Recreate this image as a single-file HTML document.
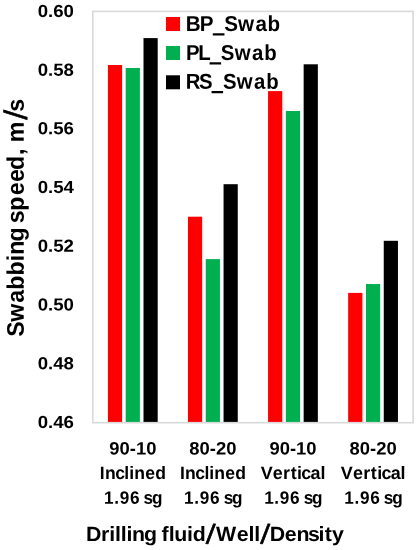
<!DOCTYPE html>
<html><head><meta charset="utf-8"><title>Swabbing speed chart</title>
<style>
html,body{margin:0;padding:0;background:#fff;}
svg{display:block;}
text{font-family:"Liberation Sans",sans-serif;font-weight:bold;fill:#000;white-space:pre;}
</style></head>
<body>
<svg width="420" height="550" viewBox="0 0 420 550">
<rect x="0" y="0" width="420" height="550" fill="#fff"/>
<g>
<rect x="107.90" y="65.0" width="14.2" height="357.5" fill="#ff0000"/>
<rect x="125.70" y="68.0" width="14.2" height="354.5" fill="#00b050"/>
<rect x="143.50" y="38.1" width="14.2" height="384.4" fill="#000000"/>
<rect x="187.95" y="216.7" width="14.2" height="205.8" fill="#ff0000"/>
<rect x="205.75" y="259.1" width="14.2" height="163.4" fill="#00b050"/>
<rect x="223.55" y="184.2" width="14.2" height="238.3" fill="#000000"/>
<rect x="268.05" y="91.1" width="14.2" height="331.4" fill="#ff0000"/>
<rect x="285.85" y="111.0" width="14.2" height="311.5" fill="#00b050"/>
<rect x="303.65" y="64.3" width="14.2" height="358.2" fill="#000000"/>
<rect x="348.15" y="292.9" width="14.2" height="129.6" fill="#ff0000"/>
<rect x="365.95" y="284.0" width="14.2" height="138.5" fill="#00b050"/>
<rect x="383.75" y="240.8" width="14.2" height="181.7" fill="#000000"/>
</g>
<rect x="92.8" y="11.4" width="320.3" height="411.3" fill="none" stroke="#d9d9d9" stroke-width="1.6"/>
<g>
<rect x="166" y="17" width="14" height="14" fill="#ff0000"/>
<rect x="166" y="46" width="14" height="14" fill="#00b050"/>
<rect x="166" y="75.3" width="14" height="14" fill="#000000"/>
</g>
<text transform="translate(186.30,30.90) rotate(0.03) scale(0.9556,1)" font-size="21.6" x="-0.61 13.98 28.68 39.63 54.04 72.32 84.95" y="0" dy="0 0 1.5 -1.5 0 0 0">BP<tspan font-size="18.5" stroke="#000" stroke-width="1.6">_</tspan>Swab</text>
<text transform="translate(186.30,59.90) rotate(0.03) scale(0.9444,1)" font-size="21.6" x="-0.31 12.68 25.51 36.61 51.21 69.68 82.47" y="0" dy="0 0 1.5 -1.5 0 0 0">PL<tspan font-size="18.5" stroke="#000" stroke-width="1.6">_</tspan>Swab</text>
<text transform="translate(186.30,88.70) rotate(0.03) scale(0.9415,1)" font-size="21.6" x="-0.47 13.60 27.71 38.86 53.50 72.02 84.85" y="0" dy="0 0 1.5 -1.5 0 0 0">RS<tspan font-size="18.5" stroke="#000" stroke-width="1.6">_</tspan>Swab</text>
<text transform="translate(37.66,16.90) rotate(0.03) scale(1.0654,1)" font-size="17.5" x="-0.04 9.77 14.71 24.37" y="0">0.60</text>
<text transform="translate(37.66,75.63) rotate(0.03) scale(1.0654,1)" font-size="17.5" x="-0.04 9.77 14.71 24.37" y="0">0.58</text>
<text transform="translate(37.66,134.36) rotate(0.03) scale(1.0654,1)" font-size="17.5" x="-0.04 9.77 14.71 24.37" y="0">0.56</text>
<text transform="translate(37.66,193.09) rotate(0.03) scale(1.0654,1)" font-size="17.5" x="-0.04 9.77 14.71 24.37" y="0">0.54</text>
<text transform="translate(37.66,251.82) rotate(0.03) scale(1.0654,1)" font-size="17.5" x="-0.04 9.77 14.71 24.37" y="0">0.52</text>
<text transform="translate(37.66,310.55) rotate(0.03) scale(1.0654,1)" font-size="17.5" x="-0.04 9.77 14.71 24.37" y="0">0.50</text>
<text transform="translate(37.66,369.28) rotate(0.03) scale(1.0654,1)" font-size="17.5" x="-0.04 9.77 14.71 24.37" y="0">0.48</text>
<text transform="translate(37.66,428.01) rotate(0.03) scale(1.0654,1)" font-size="17.5" x="-0.04 9.77 14.71 24.37" y="0">0.46</text>
<text transform="translate(109.28,454.50) rotate(0.03) scale(1.0239,1)" font-size="18.0" x="-0.01 9.99 20.02 26.03 36.03" y="0">90-10</text>
<text transform="translate(99.62,479.00) rotate(0.03) scale(0.9772,1)" font-size="18.0" x="0.26 5.56 15.93 25.29 30.37 35.46 46.70 56.96" y="0">Inclined</text>
<text transform="translate(103.69,503.70) rotate(0.03) scale(0.9553,1)" font-size="18.0" x="0.35 11.04 16.72 27.44 37.69 41.79 50.53" y="0">1.96 sg</text>
<text transform="translate(189.33,454.50) rotate(0.03) scale(1.0239,1)" font-size="18.0" x="-0.01 9.99 20.02 26.03 36.03" y="0">80-20</text>
<text transform="translate(179.67,479.00) rotate(0.03) scale(0.9772,1)" font-size="18.0" x="0.26 5.56 15.93 25.29 30.37 35.46 46.70 56.96" y="0">Inclined</text>
<text transform="translate(183.74,503.70) rotate(0.03) scale(0.9553,1)" font-size="18.0" x="0.35 11.04 16.72 27.44 37.69 41.79 50.53" y="0">1.96 sg</text>
<text transform="translate(269.43,454.50) rotate(0.03) scale(1.0239,1)" font-size="18.0" x="-0.01 9.99 20.02 26.03 36.03" y="0">90-10</text>
<text transform="translate(260.53,479.00) rotate(0.03) scale(0.9986,1)" font-size="18.0" x="0.14 12.36 22.54 30.15 36.64 40.84 50.07 60.05" y="0">Vertical</text>
<text transform="translate(263.84,503.70) rotate(0.03) scale(0.9553,1)" font-size="18.0" x="0.35 11.04 16.72 27.44 37.69 41.79 50.53" y="0">1.96 sg</text>
<text transform="translate(349.53,454.50) rotate(0.03) scale(1.0239,1)" font-size="18.0" x="-0.01 9.99 20.02 26.03 36.03" y="0">80-20</text>
<text transform="translate(340.63,479.00) rotate(0.03) scale(0.9986,1)" font-size="18.0" x="0.14 12.36 22.54 30.15 36.64 40.84 50.07 60.05" y="0">Vertical</text>
<text transform="translate(343.94,503.70) rotate(0.03) scale(0.9553,1)" font-size="18.0" x="0.35 11.04 16.72 27.44 37.69 41.79 50.53" y="0">1.96 sg</text>
<text transform="translate(86.21,540.90) rotate(0.03) scale(1.0363,1)" font-size="20.6" x="-0.31 14.27 22.21 27.77 33.33 38.89 44.31 55.75 67.11 72.67 79.59 85.02 97.30 102.73 115.27 125.29 145.17 156.50 162.06 167.87 177.11 191.64 202.84 214.00 224.15 230.29 237.27" y="0" rotate="0 0 0 0 0 0 0 0 0 0 0 0 0 0 5 0 0 0 0 5 0 0 0 0 0 0 0" dy="0 0 0 0 0 0 0 0 0 0 0 0 0 0 2.6 -2.6 0 0 0 2.6 -2.6 0 0 0 0 0 0">Drilling fluid<tspan font-size="28.0" font-weight="normal" stroke="#000" stroke-width="0.7">/</tspan>Well<tspan font-size="28.0" font-weight="normal" stroke="#000" stroke-width="0.7">/</tspan>Density</text>
<text transform="translate(23.70,335.20) rotate(-89.97) scale(0.9635,1)" font-size="24.0" x="-1.50 13.91 33.61 47.14 61.91 76.67 83.44 97.35 110.97 116.23 129.17 145.17 159.05 171.50 187.05 192.46 200.35 223.72 231.89" y="0" rotate="0 0 0 0 0 0 0 0 0 0 0 0 0 0 0 0 0 3 0" dy="0 0 0 0 0 0 0 0 0 0 0 0 0 0 0 0 0 3 -3">Swabbing speed, m<tspan font-size="32.6" font-weight="normal" stroke="#000" stroke-width="0.7">/</tspan>s</text>
</svg>
</body></html>
